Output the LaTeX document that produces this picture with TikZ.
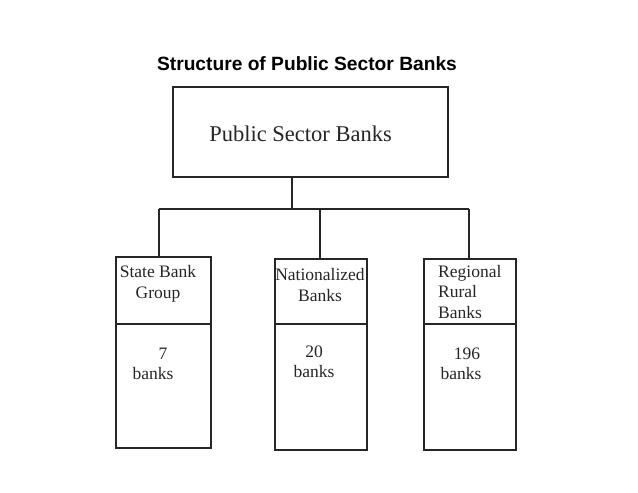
\documentclass[tikz,border=0pt]{standalone}
\usepackage{fontspec}
\setmainfont{Liberation Serif}
\newfontfamily\titlefont{Liberation Sans}
\begin{document}
\begin{tikzpicture}[x=1pt,y=-1pt,
  box/.style={draw=black!85, line width=1.4pt, inner sep=0pt},
  conn/.style={draw=black!85, line width=1.4pt},
  lbl/.style={font=\fontsize{17.5}{20.5}\selectfont, inner sep=0pt, text=black!85}]
\useasboundingbox[fill=white] (0,0) rectangle (638,493);
\node[font=\titlefont\bfseries\fontsize{19.2}{23}\selectfont, inner sep=0pt] (title) at (307,64) {Structure of Public Sector Banks};
% top box
\node[box, minimum width=275, minimum height=90] (psb) at (310.5,132) {};
\node[font=\fontsize{22.5}{27}\selectfont, inner sep=0pt, text=black!85] (psbt) at (300.5,134) {Public Sector Banks};
% lower boxes
\node[box, minimum width=95, minimum height=67] (sbg) at (163.5,290.5) {};
\node[box, minimum width=95, minimum height=124] (sbgl) at (163.5,386) {};
\node[box, minimum width=92, minimum height=65] (nb) at (321,291.5) {};
\node[box, minimum width=92, minimum height=126] (nbl) at (321,387) {};
\node[box, minimum width=92, minimum height=65] (rrb) at (470,291.5) {};
\node[box, minimum width=92, minimum height=126] (rrbl) at (470,387) {};
% texts
\node[lbl, align=center] (sbgt) at (158,284) {State Bank\\Group};
\node[lbl, align=center] (nbt) at (320,285) {Nationalized\\Banks};
\node[lbl, align=left, anchor=west] (rrbt) at (438,292) {Regional\\Rural\\Banks};
\node[lbl, align=center] (sbgn) at (153,364) {\hspace*{20pt}7\\banks};
\node[lbl, align=center] (nbn) at (314,362) {20\\banks};
\node[lbl, align=center] (rrbn) at (461,364) {\hspace*{12pt}196\\banks};
% connectors
\coordinate (j) at (292,209);
\coordinate (hl) at (159,209);
\coordinate (hm) at (320,209);
\coordinate (hr) at (469,209);
\draw[conn] (psb.south -| j) -- (j);
\draw[conn] (hl) -- (hr);
\draw[conn] (hl) -- (hl |- sbg.north);
\draw[conn] (hm) -- (hm |- nb.north);
\draw[conn] (hr) -- (hr |- rrb.north);
\end{tikzpicture}
\end{document}
